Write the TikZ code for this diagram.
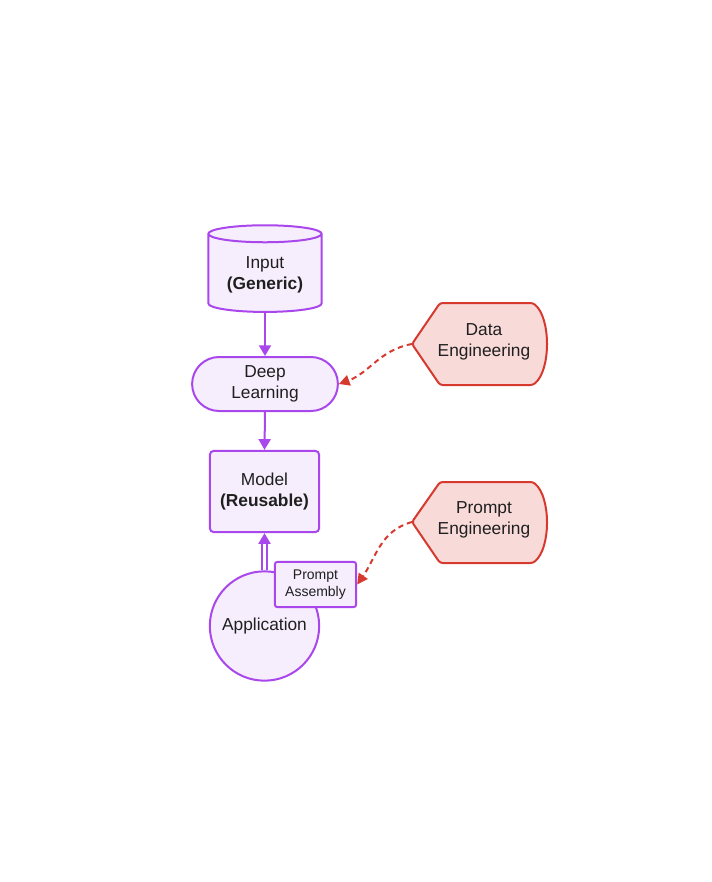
\documentclass[tikz,border=0pt]{standalone}
\usepackage{fontspec}
\setmainfont{Liberation Sans}
\usetikzlibrary{shapes.geometric,shapes.misc,arrows.meta}
\definecolor{stagepurple}{HTML}{A947EC}
\definecolor{stagefill}{HTML}{F6EEFC}
\definecolor{engred}{HTML}{D63A2F}
\definecolor{engfill}{HTML}{F8DAD9}
\begin{document}
\begin{tikzpicture}[x=0.75pt,y=-0.75pt,
  every node/.style={font=\fontsize{13}{15.75}\selectfont,align=center,text=black!88},
  stage/.style={draw=stagepurple,fill=stagefill,line width=1.5pt},
  flow/.style={stagepurple,line width=1.5pt,-{Triangle[width=9pt,length=8pt]}},
  feed/.style={engred,line width=1.5pt,dash pattern=on 4pt off 3pt,-{Triangle[width=8pt,length=8pt]}},
  engshape/.style={draw=engred,fill=engfill,line width=1.5pt,rounded corners=2pt}]
  \useasboundingbox (0,0) rectangle (712,882);
  % model pipeline
  \node[stage,cylinder,shape border rotate=90,aspect=0.2,minimum width=85pt,minimum height=65pt] (input) at (265,275) {Input\\\textbf{(Generic)}};
  \node[stage,rounded rectangle,minimum width=116pt,minimum height=40.5pt] (deep) at (265,384) {Deep\\Learning};
  \node[stage,rounded corners=3pt,minimum width=82pt,minimum height=61pt] (model) at (264.5,491.5) {Model\\\textbf{(Reusable)}};
  \node[stage,circle,minimum size=82pt] (app) at (264.5,626) {Application};
  \node[stage,rounded corners=2pt,minimum width=61pt,minimum height=34pt,inner sep=2pt,font=\fontsize{10.5}{13}\selectfont] (assembly) at (315.5,584.5) {Prompt\\Assembly};
  % engineering inputs
  \draw[engshape] (412,344) -- (440,303) -- (533,303) .. controls (551,318) and (551,370) .. (533,385) -- (440,385) -- cycle;
  \node (dataeng) at (484,342) {Data\\Engineering};
  \coordinate (datatip) at (412,344);
  \draw[engshape] (412,522) -- (440,482) -- (533,482) .. controls (551,497) and (551,548) .. (533,563) -- (440,563) -- cycle;
  \node (prompteng) at (484,520) {Prompt\\Engineering};
  \coordinate (prompttip) at (412,522);
  % connectors
  \draw[flow] (input.south) -- (deep.north);
  \draw[flow] (deep.south) -- (model.north);
  \draw[stagepurple,line width=1.5pt,double=white,double distance=1.8pt,-{Triangle[width=9pt,length=8pt]}] (app.north) -- (model.south);
  \draw[feed] (datatip) to[out=190,in=20] (deep.east);
  \draw[feed] (prompttip) to[out=195,in=55] (assembly.east);
\end{tikzpicture}
\end{document}
